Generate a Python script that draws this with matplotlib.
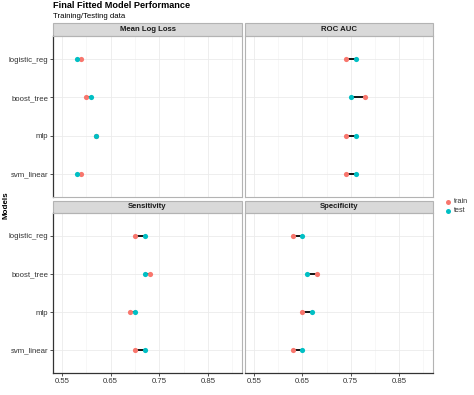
import matplotlib
matplotlib.use("Agg")
import matplotlib.pyplot as plt
from matplotlib.patches import Rectangle
from matplotlib.lines import Line2D

plt.rcParams['font.family'] = ['Liberation Sans', 'DejaVu Sans']

models = ["logistic_reg", "boost_tree", "mlp", "svm_linear"]
metrics = ["Mean Log Loss", "ROC AUC", "Sensitivity", "Specificity"]
train_logloss = [0.59, 0.60, 0.62, 0.59]
test_logloss = [0.58, 0.61, 0.62, 0.58]
train_roc = [0.74, 0.78, 0.74, 0.74]
test_roc = [0.76, 0.75, 0.76, 0.76]
train_sens = [0.70, 0.73, 0.69, 0.70]
test_sens = [0.72, 0.72, 0.70, 0.72]
train_spec = [0.63, 0.68, 0.65, 0.63]
test_spec = [0.65, 0.66, 0.67, 0.65]
xticks = [0.55, 0.65, 0.75, 0.85]
xminor = [0.60, 0.70, 0.80, 0.90]

train_vals = [train_logloss, train_roc, train_sens, train_spec]
test_vals = [test_logloss, test_roc, test_sens, test_spec]

TRAIN_C = "#F8766D"
TEST_C = "#00BFC4"

W, H = 474, 395
fig = plt.figure(figsize=(W / 100, H / 100), dpi=100)

def fx(px):
    return px / W

def fy(py):
    return 1 - py / H

lefts = [53, 245, 53, 245]
rights = [242, 433, 242, 433]
tops = [36, 36, 213, 213]
bottoms = [197, 197, 373, 373]

ypos = list(range(len(models), 0, -1))

for i, metric in enumerate(metrics):
    l, r, t, b = lefts[i], rights[i], tops[i], bottoms[i]
    ax = fig.add_axes([fx(l), fy(b), fx(r - l), (b - t) / H])
    ax.set_xlim(0.5315, 0.92)
    ax.set_ylim(0.4, len(models) + 0.6)
    ax.set_xticks(xticks)
    ax.set_xticks(xminor, minor=True)
    ax.set_yticks(ypos)
    ax.set_axisbelow(True)
    ax.grid(True, which='major', color='#EBEBEB', linewidth=0.6)
    ax.grid(True, which='minor', axis='x', color='#F2F2F2', linewidth=0.4)
    for s in ax.spines.values():
        s.set_color('#B3B3B3')
        s.set_linewidth(0.8)
    ax.tick_params(which='minor', length=0)
    ax.tick_params(which='major', length=2, width=0.6, color='#333333',
                   labelsize=5.6, labelcolor='#333333', pad=1.5)
    if i % 2 == 0:
        ax.set_yticklabels(models)
        ax.spines['left'].set_color('#333333')
        ax.spines['left'].set_linewidth(0.9)
    else:
        ax.tick_params(axis='y', left=False, labelleft=False)
    if i >= 2:
        ax.set_xticklabels([f"{v:.2f}" for v in xticks])
        ax.spines['bottom'].set_color('#333333')
        ax.spines['bottom'].set_linewidth(0.9)
    else:
        ax.tick_params(axis='x', bottom=False, labelbottom=False)

    tr = train_vals[i]
    te = test_vals[i]
    for j in range(len(models)):
        ax.plot([tr[j], te[j]], [ypos[j], ypos[j]], color='black', linewidth=1.3,
                solid_capstyle='butt', zorder=3)
    ax.scatter(tr, ypos, s=14, color=TRAIN_C, zorder=4, linewidths=0)
    ax.scatter(te, ypos, s=14, color=TEST_C, zorder=5, linewidths=0)

    sh = 12.5 / (b - t)
    ax.add_patch(Rectangle((0, 1), 1, sh, transform=ax.transAxes, clip_on=False,
                           facecolor='#D9D9D9', edgecolor='#B3B3B3', linewidth=0.8))
    ax.text(0.5, 1 + sh / 2, metric, transform=ax.transAxes, ha='center', va='center',
            fontsize=5.6, fontweight='bold', color='#1A1A1A')

fig.text(fx(53), fy(6), "Final Fitted Model Performance", ha='left', va='center',
         fontsize=6.6, fontweight='bold')
fig.text(fx(53), fy(17), "Training/Testing data", ha='left', va='center', fontsize=5.6)
fig.text(fx(6), fy(205), "Models", ha='center', va='center', rotation=90,
         fontsize=5.8, fontweight='bold')

for k, (lab, c) in enumerate([("train", TRAIN_C), ("test", TEST_C)]):
    yy = fy(201.5 + 9.5 * k)
    fig.add_artist(Line2D([fx(447.5)], [yy], marker='o', markersize=3.6, color=c,
                          markeredgewidth=0, linestyle='none', transform=fig.transFigure))
    fig.text(fx(454), yy, lab, ha='left', va='center', fontsize=5.2, color='#333333')

fig.savefig("out.png", dpi=100)
